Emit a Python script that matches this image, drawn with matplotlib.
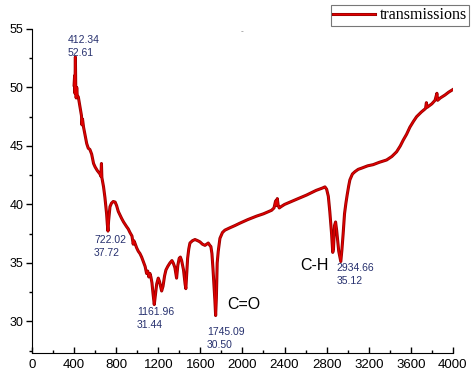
import matplotlib
matplotlib.use("Agg")
import matplotlib.pyplot as plt
import matplotlib.patheffects as pe

plt.rcParams.update({
    "font.family": ["Liberation Sans", "DejaVu Sans"],
    "font.size": 9,
})

# FTIR spectrum
wavenumber = [
    400, 405, 408, 412.34, 416, 420, 425, 430, 440, 455, 470, 475, 480, 490,
    505, 520, 535, 550, 567, 585, 600, 620, 646, 655, 660, 664, 680, 693, 709,
    716, 722.02, 728, 741, 755, 772, 790, 804, 820, 836, 852, 870, 899, 915,
    931, 950, 962, 968, 978, 994, 1010, 1026, 1042, 1058, 1075, 1089, 1100,
    1110, 1121, 1130, 1140, 1150, 1161.96, 1172, 1185, 1200, 1212, 1232, 1245,
    1260, 1273, 1290, 1311, 1330, 1342, 1358, 1374, 1386, 1399, 1410, 1422,
    1440, 1455, 1462, 1470, 1479, 1490, 1501, 1525, 1549, 1575, 1596, 1620,
    1644, 1660, 1675, 1690, 1700, 1710, 1720, 1730, 1738, 1745.09, 1752, 1760,
    1770, 1786, 1810, 1833, 1880, 1930, 1976, 2050, 2134, 2200, 2277, 2300,
    2315, 2322, 2331, 2340, 2350, 2365, 2400, 2451, 2530, 2609, 2700, 2760,
    2784, 2800, 2816, 2830, 2847, 2858, 2865, 2875, 2885, 2895, 2904, 2915,
    2934.66, 2945, 2957, 2970, 2983, 2995, 3010, 3021, 3045, 3069, 3100, 3132,
    3190, 3242, 3300, 3370, 3420, 3465, 3500, 3528, 3560, 3591, 3625, 3655,
    3700, 3740, 3748, 3755, 3800, 3830, 3848, 3855, 3880, 3924, 3960, 3996,
]
transmission = [
    50.2, 51.0, 49.5, 52.61, 49.8, 49.1, 50.0, 49.3, 49.2, 48.4, 47.6, 46.8,
    47.3, 46.6, 45.9, 45.2, 44.8, 44.7, 44.3, 43.5, 43.2, 42.9, 42.6, 42.4,
    43.5, 42.3, 41.5, 40.6, 39.2, 38.3, 37.72, 38.6, 39.8, 40.1, 40.25, 40.2,
    39.9, 39.4, 39.1, 38.8, 38.5, 38.1, 37.9, 37.6, 37.3, 36.6, 36.9, 36.7,
    36.3, 36.0, 35.8, 35.5, 35.1, 34.7, 34.1, 34.3, 33.8, 34.1, 33.8, 33.3,
    32.4, 31.44, 32.2, 33.2, 33.7, 33.4, 32.6, 33.0, 33.9, 34.4, 34.7, 35.0,
    35.2, 35.0, 34.6, 33.7, 34.8, 35.4, 35.5, 35.2, 34.4, 33.2, 32.8, 34.0,
    35.4, 36.2, 36.7, 36.9, 37.0, 36.9, 36.8, 36.6, 36.5, 36.6, 36.7, 36.5,
    36.4, 35.8, 34.5, 33.0, 31.8, 30.50, 32.0, 35.0, 36.0, 37.1, 37.6, 37.8,
    38.0, 38.2, 38.4, 38.7, 39.0, 39.2, 39.5, 39.7, 40.3, 39.9, 40.5, 39.9,
    39.7, 39.8, 40.0, 40.2, 40.5, 40.8, 41.2, 41.4, 41.5, 41.3, 40.7, 39.4,
    37.5, 35.9, 36.2, 38.2, 38.5, 37.8, 37.0, 36.0, 35.12, 36.1, 37.5, 39.2,
    40.1, 40.8, 41.6, 42.1, 42.6, 42.8, 43.0, 43.1, 43.3, 43.4, 43.6, 43.8,
    44.1, 44.5, 45.0, 45.5, 46.0, 46.6, 47.1, 47.5, 47.9, 48.2, 48.7, 48.3,
    48.6, 48.9, 49.5, 48.9, 49.1, 49.35, 49.6, 49.8,
]

# peak labels: (text, x, y)
peak_labels = [
    ("412.34\n52.61", 342, 54.5),
    ("722.02\n37.72", 589, 37.4),
    ("1161.96\n31.44", 997, 31.2),
    ("1745.09\n30.50", 1663, 29.5),
    ("2934.66\n35.12", 2897, 35.0),
]
group_labels = [("C=O", 1852, 31.45), ("C-H", 2546, 34.8)]

xticks = list(range(0, 4001, 400))
yticks = [30, 35, 40, 45, 50, 55]

fig = plt.figure(figsize=(4.74, 3.79), dpi=100)
ax = fig.add_axes([0.0675, 0.0686, 0.888, 0.855])

ax.plot(wavenumber, transmission, color="#e00000", linewidth=1.0,
        label="transmissions",
        path_effects=[pe.Stroke(linewidth=2.2, foreground="#9a0000"), pe.Normal()])

for txt, x, y in peak_labels:
    ax.text(x, y, txt, color="#26306e", fontsize=7.5, va="top", ha="left",
            linespacing=1.35)
for txt, x, y in group_labels:
    ax.text(x, y, txt, color="black", fontsize=11.5, va="center", ha="left")

ax.set_xlim(0, 4000)
ax.set_ylim(27.3, 55)
ax.set_xticks(xticks)
ax.set_xticks(range(200, 4000, 400), minor=True)
ax.set_yticks(yticks)
ax.set_yticks([27.5, 32.5, 37.5, 42.5, 47.5, 52.5], minor=True)

for side in ("top", "right"):
    ax.spines[side].set_visible(False)
ax.spines["left"].set_bounds(27.6, 55)
ax.tick_params(axis="x", which="major", direction="in", length=4, width=1,
               pad=4, labelsize=9.5)
ax.tick_params(axis="x", which="minor", direction="in", length=2.5, width=1)
ax.tick_params(axis="y", which="major", direction="out", length=4, width=1, pad=2)
ax.tick_params(axis="y", which="minor", direction="out", length=2.5, width=1)

leg = ax.legend(loc="upper right", bbox_to_anchor=(469 / 474, 1 - 5 / 379),
                bbox_transform=fig.transFigure, frameon=True, fancybox=False,
                prop={"family": "Liberation Serif", "size": 11.5},
                handlelength=2.6, handletextpad=0.3, borderpad=0.15,
                borderaxespad=0)
leg.get_frame().set_edgecolor("#555555")
leg.get_frame().set_linewidth(0.8)

fig.text(242 / 474, 1 - 32 / 379, "-", fontsize=6, color="#777777",
         ha="center", va="center")

fig.savefig("out.png", dpi=100)
